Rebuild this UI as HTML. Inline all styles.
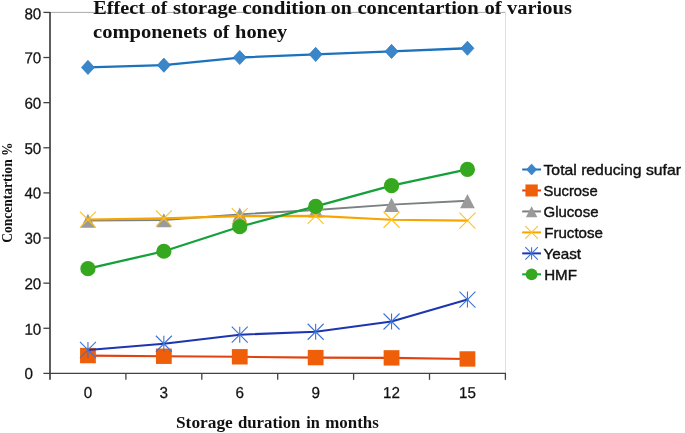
<!DOCTYPE html>
<html lang="en"><head><meta charset="utf-8"><title>Effect of storage condition on concentartion of various componenets of honey</title>
<style>html,body{margin:0;padding:0;background:#fff}body{width:685px;height:433px;overflow:hidden}svg{display:block}.ser{font-family:"Liberation Serif",serif;font-weight:bold;fill:#111}.san{font-family:"Liberation Sans",sans-serif;fill:#111;stroke:#111;stroke-width:.25px}.leg{stroke-width:.4px}</style></head><body>
<svg width="685" height="433" viewBox="0 0 685 433">
<rect width="685" height="433" fill="#fff"/>
<path d="M50.0 12.4H506" fill="none" stroke="#aaaaaa" stroke-width="1"/>
<path d="M505.5 11.9V373.4" fill="none" stroke="#e0e0e0" stroke-width="1"/>
<text class="ser" y="14" font-size="18.5"><tspan x="93.33" textLength="51.57" lengthAdjust="spacingAndGlyphs">Effect</tspan> <tspan x="151.13" textLength="15.89" lengthAdjust="spacingAndGlyphs">of</tspan> <tspan x="173.05" textLength="63.76" lengthAdjust="spacingAndGlyphs">storage</tspan> <tspan x="242.25" textLength="84.07" lengthAdjust="spacingAndGlyphs">condition</tspan> <tspan x="330.80" textLength="20.92" lengthAdjust="spacingAndGlyphs">on</tspan> <tspan x="357.47" textLength="121.14" lengthAdjust="spacingAndGlyphs">concentartion</tspan> <tspan x="484.46" textLength="17.25" lengthAdjust="spacingAndGlyphs">of</tspan> <tspan x="507.10" textLength="64.76" lengthAdjust="spacingAndGlyphs">various</tspan></text>
<text class="ser" y="38" font-size="18.5"><tspan x="93.07" textLength="114.02" lengthAdjust="spacingAndGlyphs">componenets</tspan> <tspan x="212.90" textLength="16.42" lengthAdjust="spacingAndGlyphs">of</tspan> <tspan x="235.05" textLength="52.10" lengthAdjust="spacingAndGlyphs">honey</tspan></text>
<path d="M50.0 12.0V379.79999999999995" stroke="#3f4244" stroke-width="1.7" fill="none"/>
<path d="M43.4 373.4H506.0" stroke="#3f4244" stroke-width="1.3" fill="none"/>
<text class="san" transform="translate(32.9 379.00) rotate(0.05)" font-size="15.8" text-anchor="end" textLength="8.5" lengthAdjust="spacingAndGlyphs">0</text>
<path d="M43.4 328.27H50.0" stroke="#3f4244" stroke-width="1.3" fill="none"/>
<text class="san" transform="translate(41.3 334.70) rotate(0.05)" font-size="15.8" text-anchor="end" textLength="16.9" lengthAdjust="spacingAndGlyphs">10</text>
<path d="M43.4 283.15H50.0" stroke="#3f4244" stroke-width="1.3" fill="none"/>
<text class="san" transform="translate(41.3 289.30) rotate(0.05)" font-size="15.8" text-anchor="end" textLength="16.9" lengthAdjust="spacingAndGlyphs">20</text>
<path d="M43.4 238.02H50.0" stroke="#3f4244" stroke-width="1.3" fill="none"/>
<text class="san" transform="translate(41.3 243.75) rotate(0.05)" font-size="15.8" text-anchor="end" textLength="16.9" lengthAdjust="spacingAndGlyphs">30</text>
<path d="M43.4 192.90H50.0" stroke="#3f4244" stroke-width="1.3" fill="none"/>
<text class="san" transform="translate(41.3 198.50) rotate(0.05)" font-size="15.8" text-anchor="end" textLength="16.9" lengthAdjust="spacingAndGlyphs">40</text>
<path d="M43.4 147.77H50.0" stroke="#3f4244" stroke-width="1.3" fill="none"/>
<text class="san" transform="translate(41.3 154.00) rotate(0.05)" font-size="15.8" text-anchor="end" textLength="16.9" lengthAdjust="spacingAndGlyphs">50</text>
<path d="M43.4 102.65H50.0" stroke="#3f4244" stroke-width="1.3" fill="none"/>
<text class="san" transform="translate(41.3 108.70) rotate(0.05)" font-size="15.8" text-anchor="end" textLength="16.9" lengthAdjust="spacingAndGlyphs">60</text>
<path d="M43.4 57.52H50.0" stroke="#3f4244" stroke-width="1.3" fill="none"/>
<text class="san" transform="translate(41.3 63.25) rotate(0.05)" font-size="15.8" text-anchor="end" textLength="16.9" lengthAdjust="spacingAndGlyphs">70</text>
<path d="M43.4 12.40H50.0" stroke="#3f4244" stroke-width="1.3" fill="none"/>
<text class="san" transform="translate(41.3 19.15) rotate(0.05)" font-size="15.8" text-anchor="end" textLength="16.9" lengthAdjust="spacingAndGlyphs">80</text>
<path d="M125.90 373.4V379.79999999999995" stroke="#3f4244" stroke-width="1.3" fill="none"/>
<path d="M201.80 373.4V379.79999999999995" stroke="#3f4244" stroke-width="1.3" fill="none"/>
<path d="M277.70 373.4V379.79999999999995" stroke="#3f4244" stroke-width="1.3" fill="none"/>
<path d="M353.60 373.4V379.79999999999995" stroke="#3f4244" stroke-width="1.3" fill="none"/>
<path d="M429.50 373.4V379.79999999999995" stroke="#3f4244" stroke-width="1.3" fill="none"/>
<path d="M505.40 373.4V379.79999999999995" stroke="#3f4244" stroke-width="1.3" fill="none"/>
<text class="san" transform="translate(87.95 397.95) rotate(0.05)" font-size="15.8" text-anchor="middle" textLength="8.5" lengthAdjust="spacingAndGlyphs">0</text>
<text class="san" transform="translate(163.85 397.95) rotate(0.05)" font-size="15.8" text-anchor="middle" textLength="8.5" lengthAdjust="spacingAndGlyphs">3</text>
<text class="san" transform="translate(239.75 397.95) rotate(0.05)" font-size="15.8" text-anchor="middle" textLength="8.5" lengthAdjust="spacingAndGlyphs">6</text>
<text class="san" transform="translate(315.65 397.95) rotate(0.05)" font-size="15.8" text-anchor="middle" textLength="8.5" lengthAdjust="spacingAndGlyphs">9</text>
<text class="san" transform="translate(391.55 397.95) rotate(0.05)" font-size="15.8" text-anchor="middle" textLength="16.9" lengthAdjust="spacingAndGlyphs">12</text>
<text class="san" transform="translate(467.45 397.95) rotate(0.05)" font-size="15.8" text-anchor="middle" textLength="16.9" lengthAdjust="spacingAndGlyphs">15</text>
<text class="ser" y="428" font-size="17.2"><tspan x="175.99" textLength="56.79" lengthAdjust="spacingAndGlyphs">Storage</tspan> <tspan x="237.97" textLength="62.37" lengthAdjust="spacingAndGlyphs">duration</tspan> <tspan x="306.33" textLength="13.60" lengthAdjust="spacingAndGlyphs">in</tspan> <tspan x="325.21" textLength="53.54" lengthAdjust="spacingAndGlyphs">months</tspan></text>
<text class="ser" transform="translate(12.3 242.8) rotate(-90)" font-size="14.4" textLength="100.4" lengthAdjust="spacingAndGlyphs">Concentartion %</text>
<polyline points="87.95,67.45 163.85,65.20 239.75,57.52 315.65,54.37 391.55,51.43 467.45,48.27" fill="none" stroke="#1c72bd" stroke-width="2.3" stroke-linejoin="round" stroke-linecap="round"/>
<path d="M87.95 60.35L94.45 67.45L87.95 74.55L81.45 67.45Z" fill="#3a86c8" stroke="#2378c1" stroke-width="0.70" stroke-linejoin="miter"/>
<path d="M163.85 58.10L170.35 65.20L163.85 72.30L157.35 65.20Z" fill="#3a86c8" stroke="#2378c1" stroke-width="0.70" stroke-linejoin="miter"/>
<path d="M239.75 50.42L246.25 57.52L239.75 64.62L233.25 57.52Z" fill="#3a86c8" stroke="#2378c1" stroke-width="0.70" stroke-linejoin="miter"/>
<path d="M315.65 47.27L322.15 54.37L315.65 61.47L309.15 54.37Z" fill="#3a86c8" stroke="#2378c1" stroke-width="0.70" stroke-linejoin="miter"/>
<path d="M391.55 44.33L398.05 51.43L391.55 58.53L385.05 51.43Z" fill="#3a86c8" stroke="#2378c1" stroke-width="0.70" stroke-linejoin="miter"/>
<path d="M467.45 41.17L473.95 48.27L467.45 55.37L460.95 48.27Z" fill="#3a86c8" stroke="#2378c1" stroke-width="0.70" stroke-linejoin="miter"/>
<polyline points="87.95,355.58 163.85,356.25 239.75,356.79 315.65,357.61 391.55,357.88 467.45,358.96" fill="none" stroke="#e2420f" stroke-width="2.1" stroke-linejoin="round" stroke-linecap="round"/>
<rect x="80.05" y="347.88" width="15.80" height="15.40" fill="#ef5f0a"/>
<rect x="155.95" y="348.55" width="15.80" height="15.40" fill="#ef5f0a"/>
<rect x="231.85" y="349.09" width="15.80" height="15.40" fill="#ef5f0a"/>
<rect x="307.75" y="349.91" width="15.80" height="15.40" fill="#ef5f0a"/>
<rect x="383.65" y="350.18" width="15.80" height="15.40" fill="#ef5f0a"/>
<rect x="459.55" y="351.26" width="15.80" height="15.40" fill="#ef5f0a"/>
<polyline points="87.95,220.43 163.85,219.97 239.75,214.33 315.65,210.05 391.55,204.63 467.45,200.80" fill="none" stroke="#7b8083" stroke-width="1.9" stroke-linejoin="round" stroke-linecap="round"/>
<path d="M87.95 213.63L95.30 227.83L80.60 227.83Z" fill="#9a9a9a"/>
<path d="M163.85 213.17L171.20 227.37L156.50 227.37Z" fill="#9a9a9a"/>
<path d="M239.75 207.53L247.10 221.73L232.40 221.73Z" fill="#9a9a9a"/>
<path d="M315.65 203.25L323.00 217.45L308.30 217.45Z" fill="#9a9a9a"/>
<path d="M391.55 197.83L398.90 212.03L384.20 212.03Z" fill="#9a9a9a"/>
<path d="M467.45 194.00L474.80 208.20L460.10 208.20Z" fill="#9a9a9a"/>
<polyline points="87.95,219.52 163.85,218.40 239.75,216.14 315.65,215.91 391.55,219.75 467.45,220.61" fill="none" stroke="#f7a400" stroke-width="2.2" stroke-linejoin="round" stroke-linecap="round"/>
<path d="M79.95 211.52L95.95 227.52M95.95 211.52L79.95 227.52" stroke="#ffc21a" stroke-width="1.1" fill="none"/>
<path d="M155.85 210.40L171.85 226.40M171.85 210.40L155.85 226.40" stroke="#ffc21a" stroke-width="1.1" fill="none"/>
<path d="M231.75 208.14L247.75 224.14M247.75 208.14L231.75 224.14" stroke="#ffc21a" stroke-width="1.1" fill="none"/>
<path d="M307.65 207.91L323.65 223.91M323.65 207.91L307.65 223.91" stroke="#ffc21a" stroke-width="1.1" fill="none"/>
<path d="M383.55 211.75L399.55 227.75M399.55 211.75L383.55 227.75" stroke="#ffc21a" stroke-width="1.1" fill="none"/>
<path d="M459.45 212.61L475.45 228.61M475.45 212.61L459.45 228.61" stroke="#ffc21a" stroke-width="1.1" fill="none"/>
<polyline points="87.95,349.94 163.85,343.75 239.75,334.68 315.65,331.75 391.55,321.51 467.45,299.58" fill="none" stroke="#1d36b0" stroke-width="2.1" stroke-linejoin="round" stroke-linecap="round"/>
<path d="M79.95 341.94L95.95 357.94M95.95 341.94L79.95 357.94M87.95 341.94L87.95 357.94" stroke="#3f72d4" stroke-width="1.1" fill="none"/>
<path d="M155.85 335.75L171.85 351.75M171.85 335.75L155.85 351.75M163.85 335.75L163.85 351.75" stroke="#3f72d4" stroke-width="1.1" fill="none"/>
<path d="M231.75 326.68L247.75 342.68M247.75 326.68L231.75 342.68M239.75 326.68L239.75 342.68" stroke="#3f72d4" stroke-width="1.1" fill="none"/>
<path d="M307.65 323.75L323.65 339.75M323.65 323.75L307.65 339.75M315.65 323.75L315.65 339.75" stroke="#3f72d4" stroke-width="1.1" fill="none"/>
<path d="M383.55 313.51L399.55 329.51M399.55 313.51L383.55 329.51M391.55 313.51L391.55 329.51" stroke="#3f72d4" stroke-width="1.1" fill="none"/>
<path d="M459.45 291.58L475.45 307.58M475.45 291.58L459.45 307.58M467.45 291.58L467.45 307.58" stroke="#3f72d4" stroke-width="1.1" fill="none"/>
<polyline points="87.95,268.71 163.85,251.25 239.75,226.74 315.65,206.44 391.55,185.68 467.45,169.43" fill="none" stroke="#14a03a" stroke-width="2.3" stroke-linejoin="round" stroke-linecap="round"/>
<circle cx="87.95" cy="268.71" r="7.60" fill="#36a81f"/>
<circle cx="163.85" cy="251.25" r="7.60" fill="#36a81f"/>
<circle cx="239.75" cy="226.74" r="7.60" fill="#36a81f"/>
<circle cx="315.65" cy="206.44" r="7.60" fill="#36a81f"/>
<circle cx="391.55" cy="185.68" r="7.60" fill="#36a81f"/>
<circle cx="467.45" cy="169.43" r="7.60" fill="#36a81f"/>
<path d="M522.2 169.50H541" stroke="#1c72bd" stroke-width="2" fill="none"/>
<path d="M531.60 163.96L536.67 169.50L531.60 175.04L526.53 169.50Z" fill="#3a86c8" stroke="#2378c1" stroke-width="0.55" stroke-linejoin="miter"/>
<text class="san leg" x="543.5" y="175" font-size="14.6" textLength="137.4" lengthAdjust="spacingAndGlyphs">Total reducing sufar</text>
<path d="M522.2 190.47H541" stroke="#e2420f" stroke-width="2" fill="none"/>
<rect x="525.44" y="184.46" width="12.32" height="12.01" fill="#ef5f0a"/>
<text class="san leg" x="543.5" y="196" font-size="14.6" textLength="54.2" lengthAdjust="spacingAndGlyphs">Sucrose</text>
<path d="M522.2 211.44H541" stroke="#7b8083" stroke-width="2" fill="none"/>
<path d="M531.60 206.14L537.33 217.21L525.87 217.21Z" fill="#9a9a9a"/>
<text class="san leg" x="543.5" y="217" font-size="14.6" textLength="55" lengthAdjust="spacingAndGlyphs">Glucose</text>
<path d="M522.2 232.41H541" stroke="#f7a400" stroke-width="2" fill="none"/>
<path d="M525.36 226.17L537.84 238.65M537.84 226.17L525.36 238.65" stroke="#ffc21a" stroke-width="1.1" fill="none"/>
<text class="san leg" x="544.2" y="238" font-size="14.6" textLength="58.8" lengthAdjust="spacingAndGlyphs">Fructose</text>
<path d="M522.2 253.38H541" stroke="#1d36b0" stroke-width="2" fill="none"/>
<path d="M525.36 247.14L537.84 259.62M537.84 247.14L525.36 259.62M531.60 247.14L531.60 259.62" stroke="#3f72d4" stroke-width="1.1" fill="none"/>
<text class="san leg" x="543.5" y="259" font-size="14.6" textLength="37.6" lengthAdjust="spacingAndGlyphs">Yeast</text>
<path d="M522.2 274.35H541" stroke="#14a03a" stroke-width="2" fill="none"/>
<circle cx="531.60" cy="274.35" r="5.93" fill="#36a81f"/>
<text class="san leg" x="544.2" y="280" font-size="14.6" textLength="32.8" lengthAdjust="spacingAndGlyphs">HMF</text>
</svg></body></html>
